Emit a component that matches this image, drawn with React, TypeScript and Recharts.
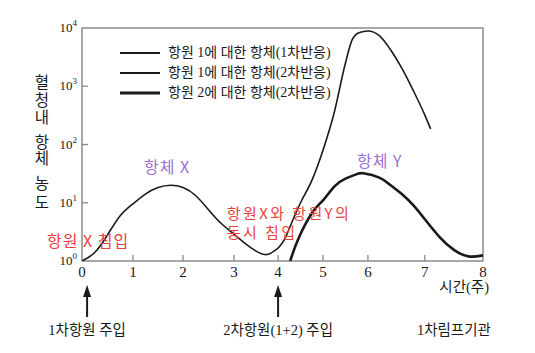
import React from 'react';
import {
  LineChart, Line, XAxis, YAxis, Legend, ReferenceArea, ReferenceDot, ReferenceLine,
} from 'recharts';

// ---------- data ----------
const primaryX = [0, 0.25, 0.5, 0.75, 1.0, 1.25, 1.5, 1.75, 2.0, 2.25, 2.5, 2.75, 3.0, 3.25, 3.5, 3.75, 4.0];
const primaryY = [1, 1.4, 2.8, 6.0, 9.6, 14.1, 18.2, 20, 18.2, 13.2, 7.6, 4.4, 2.9, 2.0, 1.48, 1.29, 1.66];

const secondary1X = [4.0, 4.15, 4.3, 4.5, 4.75, 5.0, 5.25, 5.5, 5.65, 5.8, 6.0, 6.2, 6.4, 6.6, 6.8, 7.0, 7.1];
const secondary1Y = [1.66, 2.4, 4.5, 10, 24, 80, 355, 2500, 6300, 8300, 8900, 7400, 4200, 2000, 830, 320, 185];

const secondary2X = [4.27, 4.44, 4.75, 5.0, 5.25, 5.5, 5.75, 5.9, 6.2, 6.4, 6.6, 6.8, 7.0, 7.25, 7.5, 7.75, 8.0];
const secondary2Y = [1, 2.3, 6.6, 11, 19, 26, 31, 32, 27, 20, 14, 9, 5.2, 2.6, 1.55, 1.2, 1.25];

const seriesNames = ['항원 1에 대한 항체(1차반응)', '항원 1에 대한 항체(2차반응)', '항원 2에 대한 항체(2차반응)'];
const seriesWidths = [1.6, 1.6, 2.6];
const seriesCurves = ['natural', 'monotone', 'natural'];

const xTicks = [0, 1, 2, 3, 4, 5, 6, 7, 8];
// relative screen position of each x tick (the source axis is not evenly spaced)
const xTickFractions = [0, 0.127, 0.252, 0.379, 0.489, 0.601, 0.713, 0.855, 1];
const yTicks = [1, 10, 100, 1000, 10000];
const yExponents = ['0', '1', '2', '3', '4'];

const yLabelGroups = ['혈청내', '항체', '농도'];
const xAxisTitle = '시간(주)';

const curveNotes = [
  { x: 1.68, y: 43, text: '항체 X', color: '#9a6fd3' },
  { x: 6.21, y: 54, text: '항체 Y', color: '#9a6fd3' },
  { x: 0.12, y: 2.3, text: '항원 X 침입', color: '#e8413f' },
];
const coInvasion = { x: 2.86, y: 6.9, lines: ['항원X와 항원Y의', '동시 침입'], color: '#e8413f' };

const events = [
  { x: 0.1, text: '1차항원 주입', arrow: true },
  { x: 4, text: '2차항원(1+2) 주입', arrow: true },
  { x: 7.5, text: '1차림프기관', arrow: false },
];

const toPoints = (xs: number[], ys: number[]) => xs.map((x, i) => ({ x, y: ys[i] }));
const series = [
  toPoints(primaryX, primaryY),
  toPoints(secondary1X, secondary1Y),
  toPoints(secondary2X, secondary2Y),
];

// ---------- styles ----------
const SERIF = "'Liberation Serif', 'Noto Sans CJK KR', serif";
const SANS = "'Noto Sans CJK KR', 'Noto Sans', sans-serif";
const AXIS = '#8a8a8a';
const INK = '#1a1a1a';

// piecewise linear scale through the tick positions
function piecewiseScale(): any {
  let dom = [xTicks[0], xTicks[xTicks.length - 1]];
  let rng = [0, 1];
  const frac = (v: number) => {
    const k0 = xTicks[0], kn = xTicks[xTicks.length - 1];
    const t = k0 + ((v - dom[0]) / (dom[1] - dom[0])) * (kn - k0);
    let i = 0;
    while (i < xTicks.length - 2 && t > xTicks[i + 1]) i++;
    const a = xTicks[i], b = xTicks[i + 1];
    return xTickFractions[i] + ((t - a) / (b - a)) * (xTickFractions[i + 1] - xTickFractions[i]);
  };
  const s: any = (v: number) => rng[0] + frac(Number(v)) * (rng[1] - rng[0]);
  s.domain = (d?: any[]) => {
    if (d === undefined) return dom.slice();
    dom = [Number(d[0]), Number(d[d.length - 1])];
    return s;
  };
  s.range = (r?: any[]) => {
    if (r === undefined) return rng.slice();
    rng = [Number(r[0]), Number(r[r.length - 1])];
    return s;
  };
  s.copy = () => piecewiseScale().domain(dom).range(rng);
  s.ticks = () => xTicks.slice();
  s.invert = (px: number) => {
    const f = (px - rng[0]) / (rng[1] - rng[0]);
    let i = 0;
    while (i < xTickFractions.length - 2 && f > xTickFractions[i + 1]) i++;
    const a = xTickFractions[i], b = xTickFractions[i + 1];
    return xTicks[i] + ((f - a) / (b - a)) * (xTicks[i + 1] - xTicks[i]);
  };
  return s;
}
const xScale = piecewiseScale();

const XTick = (props: any) => {
  const { x, y, payload } = props;
  const v = payload.value;
  const edge = v === xTicks[0] || v === xTicks[xTicks.length - 1];
  return (
    <g>
      {!edge && <line x1={x} x2={x} y1={y} y2={y - 6} stroke={AXIS} strokeWidth={1.3} />}
      <text x={x} y={y + 16} textAnchor="middle" fontSize={15} fontFamily={SERIF} fill={INK}>{v}</text>
    </g>
  );
};

const YTick = (props: any) => {
  const { x, y, payload } = props;
  const idx = yTicks.indexOf(payload.value);
  const edge = idx === 0 || idx === yTicks.length - 1;
  return (
    <g>
      {!edge && <line x1={x} x2={x + 6} y1={y} y2={y} stroke={AXIS} strokeWidth={1.3} />}
      <text x={x - 5} y={y + 4} textAnchor="end" fontSize={13} fontFamily={SERIF} fill={INK}>
        10<tspan dy={-6} fontSize={9}>{yExponents[idx]}</tspan>
      </text>
    </g>
  );
};

const YTitle = (props: any) => {
  const vb = props.viewBox || { x: 32, y: 28 };
  const offsets = [[54, 72, 89], [114, 130], [155, 174]];
  const cx = vb.x + 10;
  return (
    <g>
      {yLabelGroups.map((g, gi) =>
        g.split('').map((ch, ci) => (
          <text key={`${gi}-${ci}`} x={cx} y={vb.y + offsets[gi][ci]} textAnchor="middle"
            dominantBaseline="central" fontSize={15.5} fontFamily={SERIF} fill={INK}>{ch}</text>
        )),
      )}
    </g>
  );
};

const XTitle = (props: any) => {
  const vb = props.viewBox || { x: 82, y: 261, width: 401 };
  return (
    <text x={vb.x + vb.width + 6} y={vb.y + 26} textAnchor="end" dominantBaseline="central"
      fontSize={14.5} fontFamily={SERIF} fill={INK}>{xAxisTitle}</text>
  );
};

const renderLegend = () => (
  <div style={{ fontFamily: SERIF, fontSize: 14, color: INK, lineHeight: '20px' }}>
    {seriesNames.map((n, i) => (
      <div key={n} style={{ display: 'flex', alignItems: 'center', height: 20 }}>
        <svg width={50} height={20} style={{ display: 'block' }}>
          <line x1={2} x2={42} y1={10} y2={10} stroke={INK} strokeWidth={seriesWidths[i] + 0.3} />
        </svg>
        <span style={{ whiteSpace: 'nowrap' }}>{n}</span>
      </div>
    ))}
  </div>
);

const eventShape = (ev: { text: string; arrow: boolean }) => (p: any) => {
  const x = p.x1;
  const bottom = Math.max(p.y1, p.y2);
  return (
    <g>
      {ev.arrow && (
        <g>
          <line x1={x} x2={x} y1={bottom + 34} y2={bottom + 56} stroke={INK} strokeWidth={2} />
          <polygon points={`${x},${bottom + 24} ${x - 4},${bottom + 36} ${x + 4},${bottom + 36}`} fill={INK} />
        </g>
      )}
      <text x={x} y={bottom + 69} textAnchor="middle" dominantBaseline="central" fontSize={14.5}
        fontFamily={SERIF} fill={INK}>{ev.text}</text>
    </g>
  );
};

const noteShape = (text: string, color: string) => (p: any) => (
  <text x={p.cx} y={p.cy} textAnchor="middle" dominantBaseline="central" fontSize={16}
    letterSpacing={1} fontFamily={SANS} fill={color}>{text}</text>
);

const coShape = (p: any) => (
  <g>
    <text x={p.cx} y={p.cy} fontSize={15} letterSpacing={2.4} fontFamily={SANS} fill={coInvasion.color}
      dominantBaseline="central">{coInvasion.lines[0]}</text>
    <text x={p.cx} y={p.cy + 19} fontSize={15} letterSpacing={2.4} fontFamily={SANS} fill={coInvasion.color}
      dominantBaseline="central">{coInvasion.lines[1]}</text>
  </g>
);

export default function App() {
  return (
    <div style={{ position: 'absolute', left: 0, top: 0, width: 535, height: 353, background: '#fff' }}>
      <LineChart width={535} height={353} margin={{ top: 28, right: 52, bottom: 62, left: 32 }}>
        <XAxis
          dataKey="x" type="number" domain={[0, 8]} ticks={xTicks} scale={xScale}
          allowDataOverflow axisLine={false} tickLine={false} tickSize={0} tickMargin={0}
          tick={<XTick />} height={30} label={<XTitle />} interval={0}
        />
        <YAxis
          dataKey="y" type="number" scale="log" domain={[1, 10000]} ticks={yTicks} allowDataOverflow
          axisLine={false} tickLine={false} tickSize={0} tickMargin={0} tick={<YTick />}
          width={50} label={<YTitle />} interval={0}
        />
        <ReferenceArea x1={0} x2={8} y1={1} y2={10000} fill="none" stroke={AXIS} strokeWidth={1.5} />
        {series.map((d, i) => (
          <Line key={i} data={d} dataKey="y" name={seriesNames[i]} type={seriesCurves[i] as any} stroke={INK}
            strokeWidth={seriesWidths[i]} dot={false} activeDot={false} isAnimationActive={false} />
        ))}
        {curveNotes.map((n) => (
          <ReferenceDot key={n.text} x={n.x} y={n.y} r={1} shape={noteShape(n.text, n.color)} />
        ))}
        <ReferenceDot x={coInvasion.x} y={coInvasion.y} r={1} shape={coShape} />
        {events.map((ev) => (
          <ReferenceLine key={ev.text} x={ev.x} ifOverflow="visible" shape={eventShape(ev)} />
        ))}
        <Legend layout="horizontal" verticalAlign="middle" align="center" content={renderLegend}
          wrapperStyle={{ left: 118, top: 43, width: 'auto', height: 'auto' }} />
      </LineChart>
    </div>
  );
}
